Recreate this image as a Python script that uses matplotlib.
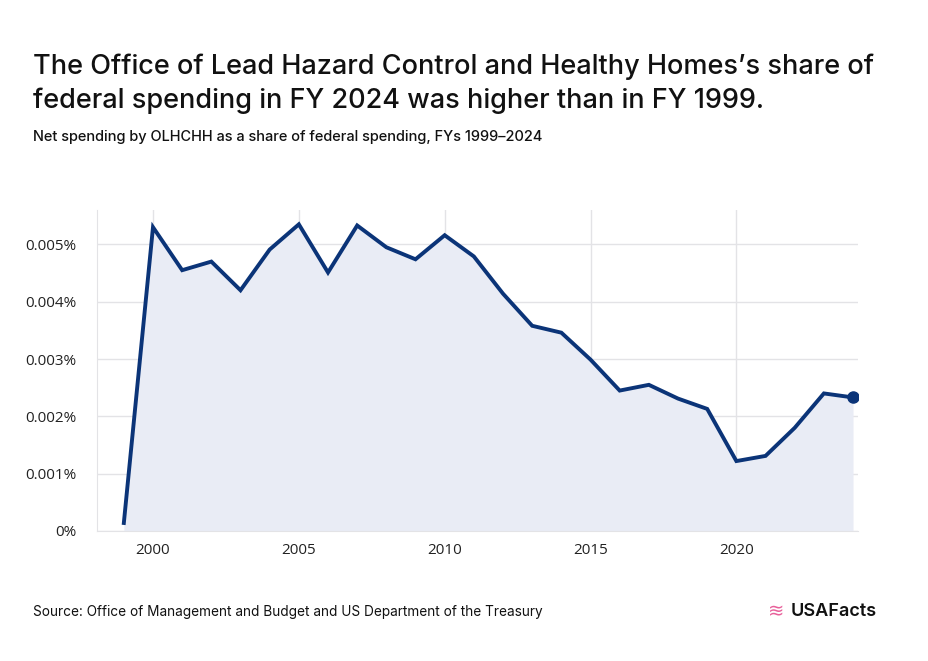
import matplotlib.pyplot as plt
from matplotlib.ticker import FuncFormatter

plt.rcParams['font.family'] = ['Open Sans', 'DejaVu Sans']

# data (percent of federal spending)
years = list(range(1999, 2025))
share = [0.00014, 0.0053, 0.00455, 0.0047, 0.0042, 0.00491, 0.00535, 0.00451,
         0.00533, 0.00495, 0.00474, 0.00516, 0.00479, 0.00414, 0.00358, 0.00346,
         0.00299, 0.00245, 0.00255, 0.00231, 0.00213, 0.00122, 0.00131, 0.0018,
         0.0024, 0.00233]
yticks = [0, 0.001, 0.002, 0.003, 0.004, 0.005]
xticks = [2000, 2005, 2010, 2015, 2020]

navy = "#0b3478"
fill = "#e9ecf5"
grid = "#e3e3e6"

fig = plt.figure(figsize=(9.29, 6.61), dpi=100)
ax = fig.add_axes([97/929, 1-531/661, (858-97)/929, (531-210)/661])

ax.fill_between(years, share, 0, color=fill, lw=0)
ax.plot(years, share, color=navy, lw=2.8, solid_joinstyle="miter", zorder=3)
ax.plot(years[-1], share[-1], "o", color=navy, ms=8, zorder=4)

ax.set_xlim(1998.08, 2024.17)
ax.set_ylim(0, 0.0056)
ax.set_xticks(xticks)
ax.set_yticks(yticks)
ax.yaxis.set_major_formatter(FuncFormatter(lambda v, p: "0%" if v == 0 else f"{v:.3f}%"))
ax.grid(True, color=grid, lw=1)
ax.set_axisbelow(True)
for s in ["top", "right"]:
    ax.spines[s].set_visible(False)
for s in ["left", "bottom"]:
    ax.spines[s].set_color(grid)
ax.tick_params(length=0, labelsize=11, colors="#222222", pad=9)
ax.tick_params(axis="y", pad=15)

fig.text(33/929, 1-67/661, "The Office of Lead Hazard Control and Healthy Homes’s share of",
         fontsize=19.5, family="Inter", fontweight="medium", va="center", color="#111111")
fig.text(33/929, 1-101/661, "federal spending in FY 2024 was higher than in FY 1999.",
         fontsize=19.5, family="Inter", fontweight="medium", va="center", color="#111111")
fig.text(33/929, 1-137/661, "Net spending by OLHCHH as a share of federal spending, FYs 1999–2024",
         fontsize=10.5, family="Inter", fontweight="medium", va="center", color="#111111")
fig.text(33/929, 1-612/661, "Source: Office of Management and Budget and US Department of the Treasury",
         fontsize=9.8, family="Inter", va="center", color="#111111")
fig.text(768/929, 1-612/661, "≋", fontsize=14, color="#e8609a", va="center", ha="left")
fig.text(877/929, 1-612/661, "USAFacts", fontsize=13, family="Inter", va="center",
         ha="right", color="#111111", fontweight="semibold")

fig.savefig("out.png", dpi=100)
